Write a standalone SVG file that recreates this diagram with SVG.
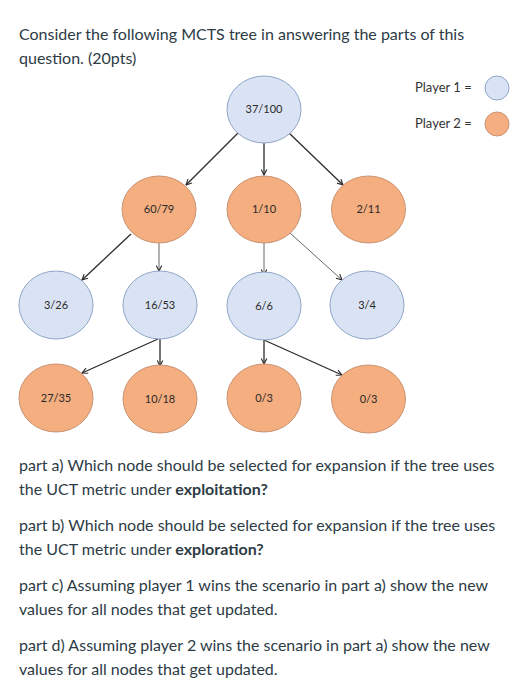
<svg xmlns="http://www.w3.org/2000/svg" width="529" height="688" viewBox="0 0 529 688">
<style>
.t{font-family:Lato,"Open Sans",sans-serif;font-size:16px;fill:#2d3b45}
.b{font-weight:bold}
.p1{fill:#dae3f3;stroke:#8fa6c9;stroke-width:1}
.p2{fill:#f4ae7f;stroke:#c99373;stroke-width:1}
.n{font-family:Lato,"Open Sans",sans-serif;font-size:11px;fill:#2a2a2a;text-anchor:middle}
.lg{font-family:Lato,"Open Sans",sans-serif;font-size:13px;fill:#333}
.e{stroke:#2b2b2b;stroke-width:1.3;fill:none;marker-end:url(#ah)}
.g{stroke:#666;stroke-width:1;fill:none;marker-end:url(#ah)}
</style>
<defs>
<marker id="ah" viewBox="0 0 10 10" refX="9" refY="5" markerWidth="7" markerHeight="7" markerUnits="userSpaceOnUse" orient="auto">
<path d="M1,1 L9,5 L1,9" fill="none" stroke="#2b2b2b" stroke-width="1.6"/>
</marker>
</defs>
<rect width="529" height="688" fill="#fff"/>
<g id="header">
<text class="t" x="19" y="40">Consider the following MCTS tree in answering the parts of this</text>
<text class="t" x="19" y="64">question. (20pts)</text>
</g>
<g id="connectors">
<line class="e" x1="238" y1="133" x2="186" y2="185"/>
<line class="e" x1="264" y1="143" x2="264" y2="175"/>
<line class="e" x1="289" y1="133" x2="343" y2="185"/>
<line class="e" x1="131" y1="234" x2="82" y2="280"/>
<line class="g" x1="159" y1="243" x2="159" y2="271"/>
<line class="g" x1="264" y1="243" x2="264" y2="275"/>
<line class="g" x1="290" y1="233" x2="342" y2="280"/>
<line class="e" x1="158" y1="339" x2="82" y2="373"/>
<line class="e" x1="160" y1="339" x2="160" y2="366"/>
<line class="e" x1="264" y1="340" x2="264" y2="364"/>
<line class="e" x1="264" y1="340" x2="342" y2="375"/>
</g>
<g id="n_root"><ellipse class="p1" cx="264" cy="109.5" rx="37" ry="33.5"/><text class="n" x="264" y="113">37/100</text></g>
<g id="n_60_79"><ellipse class="p2" cx="159" cy="209.5" rx="37" ry="33.5"/><text class="n" x="159" y="213">60/79</text></g>
<g id="n_1_10"><ellipse class="p2" cx="264" cy="209.5" rx="37" ry="33.5"/><text class="n" x="264" y="213">1/10</text></g>
<g id="n_2_11"><ellipse class="p2" cx="368.5" cy="209.5" rx="37" ry="33.5"/><text class="n" x="368.5" y="213">2/11</text></g>
<g id="n_3_26"><ellipse class="p1" cx="56" cy="305" rx="37" ry="34"/><text class="n" x="56" y="308.5">3/26</text></g>
<g id="n_16_53"><ellipse class="p1" cx="160" cy="305" rx="37" ry="34"/><text class="n" x="160" y="308.5">16/53</text></g>
<g id="n_6_6"><ellipse class="p1" cx="264" cy="306" rx="37" ry="34"/><text class="n" x="264" y="309.5">6/6</text></g>
<g id="n_3_4"><ellipse class="p1" cx="367" cy="305" rx="37" ry="34"/><text class="n" x="367" y="308.5">3/4</text></g>
<g id="n_27_35"><ellipse class="p2" cx="56" cy="398" rx="37" ry="34"/><text class="n" x="56" y="401.5">27/35</text></g>
<g id="n_10_18"><ellipse class="p2" cx="160" cy="399" rx="37" ry="34"/><text class="n" x="160" y="402.5">10/18</text></g>
<g id="n_0_3a"><ellipse class="p2" cx="264" cy="398" rx="37" ry="34"/><text class="n" x="264" y="401.5">0/3</text></g>
<g id="n_0_3b"><ellipse class="p2" cx="368.5" cy="399" rx="37" ry="34"/><text class="n" x="368.5" y="402.5">0/3</text></g>
<g id="legend">
<text class="lg" x="415" y="91.5">Player 1 =</text>
<ellipse class="p1" cx="497" cy="88" rx="12" ry="12"/>
<text class="lg" x="415" y="127.5">Player 2 =</text>
<ellipse class="p2" cx="497" cy="124" rx="12" ry="12"/>
</g>
<g id="questions">
<text class="t" x="19" y="471">part a) Which node should be selected for expansion if the tree uses</text>
<text class="t" x="19" y="495">the UCT metric under <tspan class="b">exploitation?</tspan></text>
<text class="t" x="19" y="531">part b) Which node should be selected for expansion if the tree uses</text>
<text class="t" x="19" y="555">the UCT metric under <tspan class="b">exploration?</tspan></text>
<text class="t" x="19" y="591">part c) Assuming player 1 wins the scenario in part a) show the new</text>
<text class="t" x="19" y="615">values for all nodes that get updated.</text>
<text class="t" x="19" y="651">part d) Assuming player 2 wins the scenario in part a) show the new</text>
<text class="t" x="19" y="675">values for all nodes that get updated.</text>
</g>
</svg>
